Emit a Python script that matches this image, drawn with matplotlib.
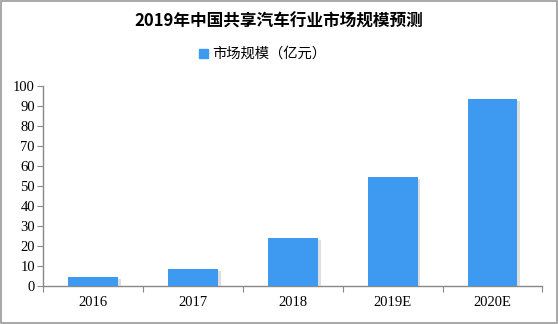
import matplotlib.pyplot as plt
import matplotlib.patheffects as pe
from matplotlib.patches import Rectangle

years = ["2016", "2017", "2018", "2019E", "2020E"]
market_size = [4.6, 8.6, 24.2, 54.6, 93.6]
yticks = list(range(0, 101, 10))

title = "2019年中国共享汽车行业市场规模预测"
legend_label = "市场规模（亿元）"

cjk = ["Noto Sans CJK SC", "DejaVu Sans"]
serif = ["Liberation Serif", "DejaVu Serif"]

fig = plt.figure(figsize=(5.58, 3.24), dpi=100)
ax = fig.add_axes([0.0776, 0.1164, 0.8944, 0.617])

x = range(len(years))
bars = ax.bar(x, market_size, width=0.5, color="#3e9af0", zorder=3)
for b in bars:
    b.set_path_effects([pe.SimplePatchShadow(offset=(2, -1.5), shadow_rgbFace="#c8c8c8", alpha=0.6),
                        pe.Normal()])

ax.set_xlim(-0.5, len(years) - 0.5)
ax.set_ylim(0, 100)
ax.set_yticks(yticks)
ax.set_yticklabels([str(v) for v in yticks], family=serif, fontsize=10.5)
ax.set_xticks([i + 0.5 for i in range(-1, len(years))])
ax.set_xticklabels([])
ax.set_xticks(list(x), minor=True)
ax.set_xticklabels(years, minor=True, family=serif, fontsize=10.5)
ax.tick_params(axis="x", which="minor", length=0, pad=7)
ax.tick_params(axis="x", which="major", length=4, color="#888888", direction="out")
ax.tick_params(axis="y", length=4, color="#888888", pad=2)

for s in ["top", "right"]:
    ax.spines[s].set_visible(False)
for s in ["left", "bottom"]:
    ax.spines[s].set_color("#888888")
    ax.spines[s].set_linewidth(1)

fig.text(0.5, 0.932, title, family=cjk, fontsize=12, fontweight="bold",
         ha="center", va="center")
fig.patches.append(Rectangle((0.357, 0.822), 0.0155, 0.028, transform=fig.transFigure,
                             color="#3e9af0", figure=fig))
fig.text(0.38, 0.836, legend_label, family=cjk, fontsize=10.3, ha="left", va="center")

# figure border
fig.patches.append(Rectangle((0.001, 0.002), 0.997, 0.996, transform=fig.transFigure,
                             fill=False, edgecolor="#999999", linewidth=1.2, figure=fig))

fig.savefig("out.png", dpi=100)
